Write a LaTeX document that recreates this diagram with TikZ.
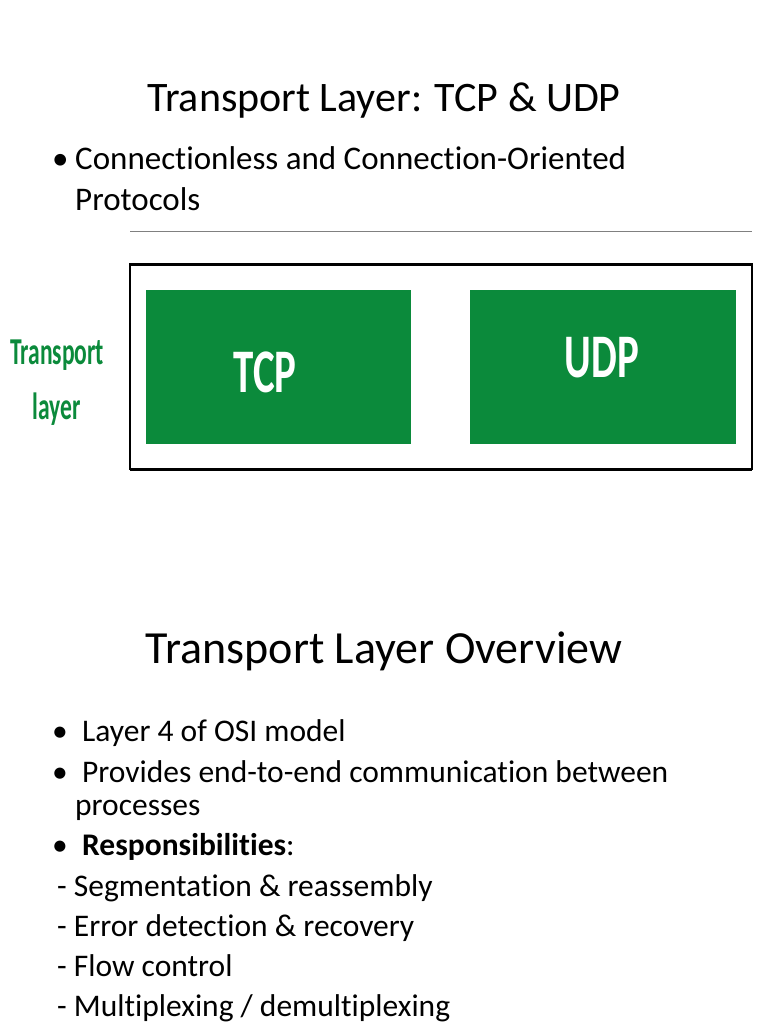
\documentclass[tikz,border=0pt]{standalone}
\usepackage{fontspec}
\setmainfont{Carlito}[RawFeature=-liga]
\definecolor{tgreen}{HTML}{0B8A3B}
\begin{document}
\begin{tikzpicture}[x=1pt,y=-1pt,
  txt/.style={anchor=base west,inner sep=0pt,font=\fontsize{31.5}{34}\selectfont},
  gbox/.style={fill=tgreen,draw=none},
  lbl/.style={text=white,font=\fontsize{62}{62}\selectfont\bfseries,inner sep=0pt},
  ttl/.style={anchor=base,inner sep=0pt}]
\useasboundingbox (0,0) rectangle (768,1024);
\node[ttl,font=\fontsize{42}{44}\selectfont] (t1) at (384,112) {Transport Layer: TCP \& UDP};
\node[txt,font=\fontsize{33}{36}\selectfont] (b1) at (52,170) {•};
\node[txt,font=\fontsize{33}{36}\selectfont] (l1) at (75,170) {Connectionless and Connection-Oriented};
\node[txt,font=\fontsize{33}{36}\selectfont] (l2) at (75,211) {Protocols};
\draw[gray] (130,231) -- (752,231);
\draw[line width=1.2pt] (130,264) rectangle (752,469);
\draw[line width=3pt] (130,264) -- (752,264);
\draw[line width=3pt] (130,469) -- (752,469);
\fill[gbox] (146,290) rectangle (411,444);
\fill[gbox] (470,290) rectangle (736,444);
\node[lbl] (tcp) at (265,372) {\addfontfeature{FakeStretch=0.66}TCP};
\node[lbl] (udp) at (602,358) {\addfontfeature{FakeStretch=0.66}UDP};
\node[text=tgreen,font=\fontsize{38}{55}\selectfont\bfseries,align=center,inner sep=0pt] (tl) at (57,383) {\addfontfeature{FakeStretch=0.62}Transport\\\addfontfeature{FakeStretch=0.62}layer};
\node[ttl,font=\fontsize{46}{48}\selectfont] (t2) at (384,663) {Transport Layer Overview};
\node[txt] (c1) at (52,741) {•};
\node[txt] (c1t) at (82,741) {Layer 4 of OSI model};
\node[txt] (c2) at (52,782) {•};
\node[txt] (c2t) at (82,782) {Provides end-to-end communication between};
\node[txt] (c2u) at (75,815) {processes};
\node[txt] (c3) at (52,855) {•};
\node[txt] (c3t) at (82,855) {\textbf{Responsibilities}:};
\node[txt] (d1) at (57,896) {- Segmentation \& reassembly};
\node[txt] (d2) at (57,936) {- Error detection \& recovery};
\node[txt] (d3) at (57,976) {- Flow control};
\node[txt] (d4) at (57,1016) {- Multiplexing / demultiplexing};
\end{tikzpicture}
\end{document}
